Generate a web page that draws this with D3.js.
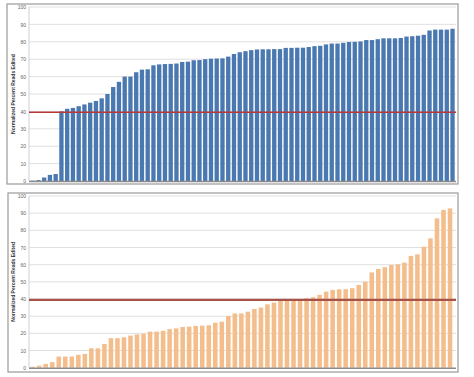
<!DOCTYPE html>
<html>
<head>
<meta charset="utf-8">
<script src="https://cdn.jsdelivr.net/npm/d3@7"></script>
<style>
  body { margin: 0; background: #fff; }
  svg { display: block; font-family: "Liberation Sans", Arial, sans-serif; }
</style>
</head>
<body>
<div id="chart"></div>
<script>
// Values (sorted, one bar per sample)
const topValues = [0.2, 0.5, 2, 3.5, 4, 40, 41.5, 42, 43, 44, 45, 46, 47.5, 50, 54, 57, 60,
  60, 62.5, 64, 64.2, 66.5, 67, 67.2, 67.3, 67.5, 68.4, 68.6, 69.4, 69.5, 70, 70.3, 70.4, 70.5,
  71.5, 73, 74, 74.6, 75.2, 75.6, 75.7, 75.7, 75.8, 75.8, 76.5, 76.5, 76.6, 76.6,
  77, 77.5, 77.7, 78.5, 79, 79, 79.4, 79.9, 80, 80.2,
  81, 81, 81.5, 82, 82, 82, 82.2, 83, 83.2, 83.5, 84, 86.5, 87, 87, 87, 87.5];

const bottomValues = [0.6, 1.2, 2.2, 3.2, 6.5, 6.5, 6.5, 7.5, 8, 11.3, 11.3, 13.8, 17.2, 17.2, 17.7, 18.7, 19.4, 19.8, 21, 21,
  21.5, 22.5, 22.9, 23.7, 23.9, 24.3, 24.5, 24.7, 26.2, 26.8, 30.1, 31.6, 31.6, 32.6, 34.2, 35, 36.9, 37.9,
  39, 39.5, 40, 40, 40.5,
  41, 42.4, 44.3, 45.3, 45.7, 45.7, 46.3, 48.2, 50.1, 55.5, 57.5, 58.5, 59.8, 60.2, 61.2, 65.1, 66, 70.5, 75.3, 87, 91.9, 92.8];

const yTicks = [0, 10, 20, 30, 40, 50, 60, 70, 80, 90, 100];
const thresholdValue = 39.5;
const yTitle = "Normalized Percent Reads Edited";

const width = 474, height = 377;

const svg = d3.select("#chart").append("svg")
    .attr("width", width)
    .attr("height", height);

function drawPanel(opts) {
    const g = svg.append("g");

    // panel frame
    g.append("rect")
        .attr("x", opts.frame[0]).attr("y", opts.frame[1])
        .attr("width", opts.frame[2] - opts.frame[0])
        .attr("height", opts.frame[3] - opts.frame[1])
        .attr("fill", "#fff")
        .attr("stroke", "#9a9a9a")
        .attr("stroke-width", 1.2);

    const x = d3.scaleBand()
        .domain(d3.range(opts.values.length))
        .range(opts.xRange)
        .paddingInner(opts.pad)
        .paddingOuter(opts.pad / 2);

    const y = d3.scaleLinear()
        .domain([0, 100])
        .range(opts.yRange);

    // gridlines
    g.append("g")
        .selectAll("line")
        .data(yTicks.filter(t => t > 0))
        .join("line")
        .attr("x1", opts.plotX[0]).attr("x2", opts.plotX[1])
        .attr("y1", d => y(d)).attr("y2", d => y(d))
        .attr("stroke", "#dcdcdc")
        .attr("stroke-width", 0.9);

    // left axis line
    g.append("line")
        .attr("x1", opts.plotX[0]).attr("x2", opts.plotX[0])
        .attr("y1", y(100)).attr("y2", y(0))
        .attr("stroke", "#cfcfcf");

    // y axis labels
    const axis = d3.axisLeft(y).tickValues(yTicks).tickSize(0).tickPadding(3);
    const ag = g.append("g")
        .attr("transform", `translate(${opts.plotX[0]},0)`)
        .call(axis);
    ag.select(".domain").remove();
    ag.selectAll("text")
        .attr("font-size", 5)
        .attr("fill", "#666");

    // bars
    g.append("g")
        .selectAll("rect")
        .data(opts.values)
        .join("rect")
        .attr("x", (d, i) => x(i))
        .attr("width", x.bandwidth())
        .attr("y", d => y(d))
        .attr("height", d => y(0) - y(d))
        .attr("fill", opts.color);

    // bottom axis line
    g.append("line")
        .attr("x1", opts.plotX[0]).attr("x2", opts.plotX[1])
        .attr("y1", y(0) + 0.5).attr("y2", y(0) + 0.5)
        .attr("stroke", "#8c8c8c")
        .attr("stroke-width", 1.4);

    // threshold line
    g.append("line")
        .attr("x1", opts.plotX[0]).attr("x2", opts.plotX[1])
        .attr("y1", y(thresholdValue)).attr("y2", y(thresholdValue))
        .attr("stroke", opts.lineColor)
        .attr("stroke-width", opts.lineWidth);

    // y axis title
    const cy = (y(0) + y(100)) / 2;
    g.append("text")
        .attr("transform", `translate(${opts.titleX},${cy}) rotate(-90)`)
        .attr("text-anchor", "middle")
        .attr("font-size", 5)
        .attr("font-weight", "bold")
        .attr("fill", "#333")
        .text(yTitle);
}

drawPanel({
    values: topValues,
    frame: [7, 4, 458, 184],
    plotX: [29, 456],
    xRange: [29.8, 455.4],
    yRange: [181, 7],
    pad: 0.25,
    color: "#4a78b0",
    lineColor: "#b8383a",
    lineWidth: 1.6,
    titleX: 14.5
});

drawPanel({
    values: bottomValues,
    frame: [8, 193, 458, 372],
    plotX: [29, 456],
    xRange: [29.4, 453.3],
    yRange: [367.7, 196],
    pad: 0.3,
    color: "#f4be8c",
    lineColor: "#a8534a",
    lineWidth: 2.4,
    titleX: 14.5
});
</script>
</body>
</html>
